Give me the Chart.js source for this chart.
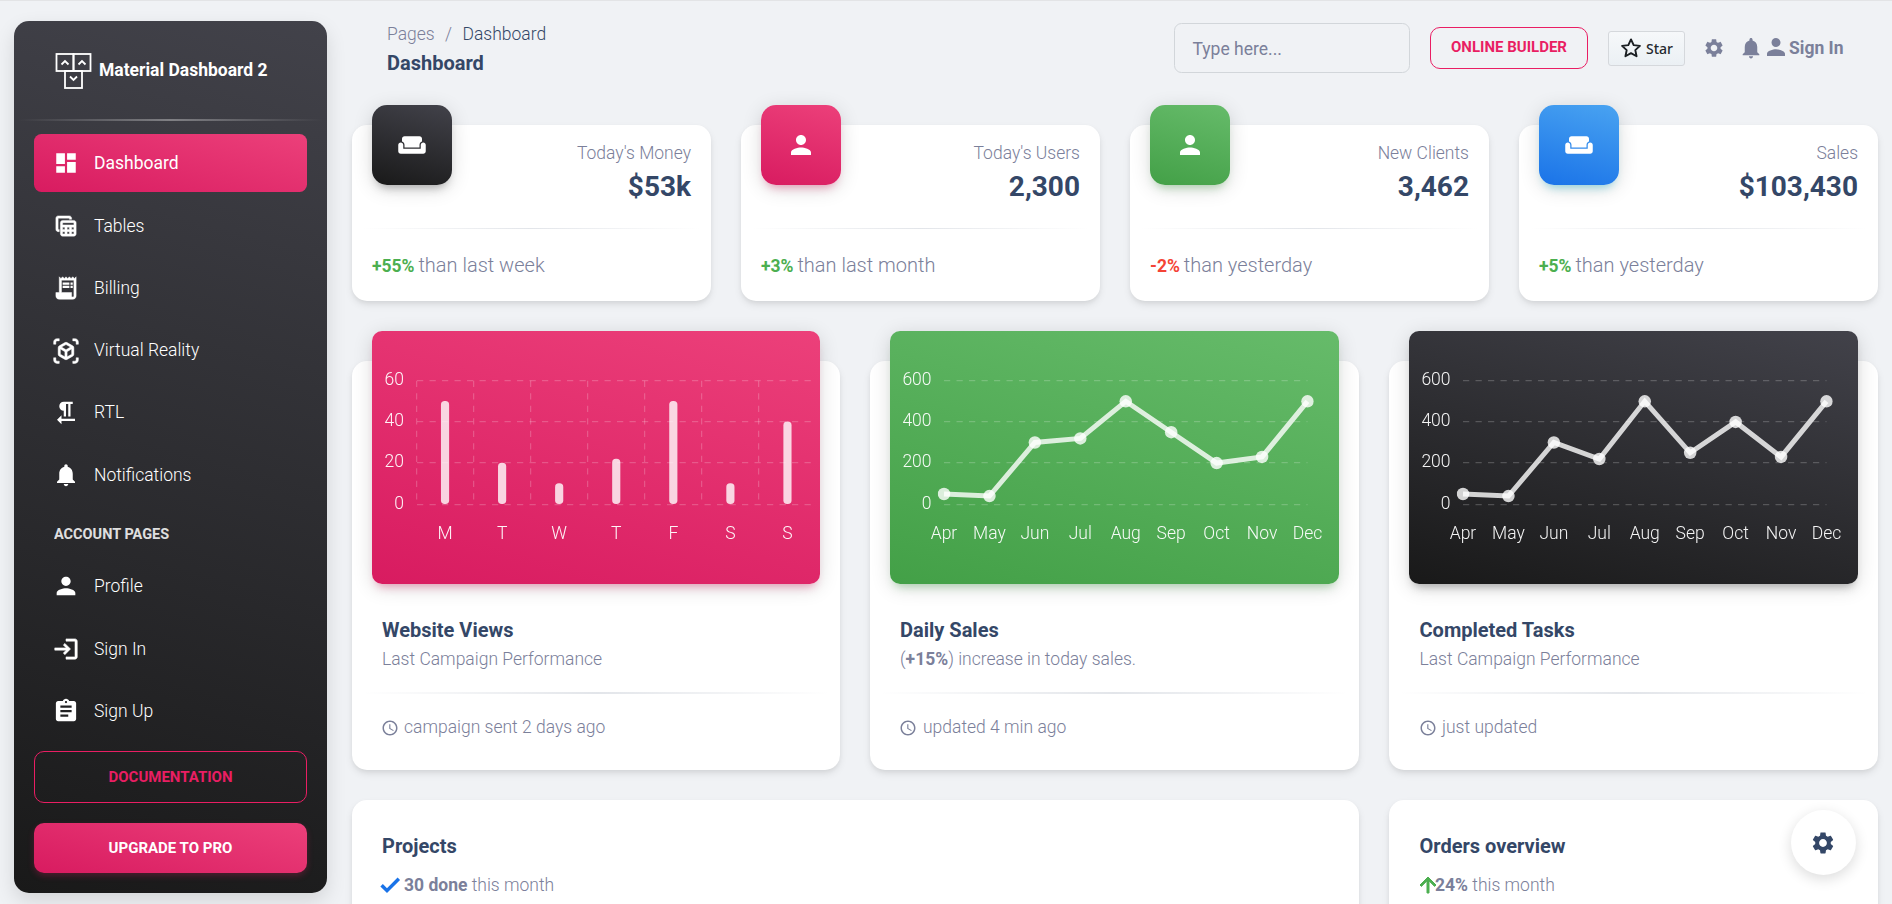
<!DOCTYPE html>
<html>
<head>
<meta charset="utf-8">
<script src="https://cdn.jsdelivr.net/npm/chart.js@4"></script>
<style>
*{box-sizing:border-box}
html,body{margin:0;width:1892px;height:904px;overflow:hidden;background:#f0f2f5;font-family:Roboto,sans-serif;color:#7b809a}
body{position:relative;border-top:1px solid #e3e4e6}
b{font-weight:700}
.a{position:absolute}
.t{position:absolute;line-height:1;white-space:nowrap;transform:translateY(-50%)}
.r{transform:translateY(-50%);text-align:right}
.ic{position:absolute;transform:translate(-50%,-50%);fill:currentColor}
.side{left:14px;top:20px;width:313px;height:872px;border-radius:15px;background:linear-gradient(195deg,#42424a,#191919);box-shadow:0 8px 20px rgba(0,0,0,.12)}
.card{position:absolute;background:#fff;border-radius:15px;box-shadow:0 4px 8px -1px rgba(0,0,0,.1),0 2px 5px -1px rgba(0,0,0,.06)}
.box{position:absolute;width:80px;height:80px;border-radius:15px}
.head{position:absolute;top:330px;height:253px;border-radius:10px}
.head canvas{position:absolute;left:0;top:0}
.hr{position:absolute;height:1.5px;background:linear-gradient(90deg,rgba(52,71,103,0),rgba(52,71,103,.14),rgba(52,71,103,0))}
.hrd{position:absolute;height:1.5px;background:linear-gradient(90deg,rgba(255,255,255,0),rgba(255,255,255,.35),rgba(255,255,255,0))}
.nav{color:#fff;font-size:17.5px;font-weight:300;left:94px}
.title{color:#344767;font-weight:700;font-size:20px}
.sub{font-weight:300;font-size:17.5px}
.val{font-size:28px;font-weight:700;color:#344767}
.foot{font-size:20px;font-weight:300}
.foot b{font-size:17.5px;margin-right:-1px}
.pink{background:linear-gradient(195deg,#ec407a,#d81b60);box-shadow:0 4px 20px rgba(0,0,0,.14),0 7px 10px -5px rgba(233,30,99,.4)}
.green{background:linear-gradient(195deg,#66bb6a,#43a047);box-shadow:0 4px 20px rgba(0,0,0,.14),0 7px 10px -5px rgba(76,175,80,.4)}
.dark{background:linear-gradient(195deg,#42424a,#191919);box-shadow:0 4px 20px rgba(0,0,0,.14),0 7px 10px -5px rgba(64,64,64,.4)}
.blue{background:linear-gradient(195deg,#49a3f1,#1a73e8);box-shadow:0 4px 20px rgba(0,0,0,.14),0 7px 10px -5px rgba(0,188,212,.4)}
</style>
</head>
<body>
<svg width="0" height="0" style="position:absolute">
<symbol id="sofa" viewBox="0 0 24 24"><path d="M21 10c-1.1 0-2 .9-2 2v3H5v-3c0-1.1-.9-2-2-2s-2 .9-2 2v5c0 1.1.9 2 2 2h18c1.1 0 2-.9 2-2v-5c0-1.1-.9-2-2-2zm-3-5H6c-1.1 0-2 .9-2 2v2.15c1.16.41 2 1.51 2 2.82V14h12v-2.03c0-1.3.84-2.4 2-2.82V7c0-1.1-.9-2-2-2z"/></symbol>
<symbol id="person" viewBox="0 0 24 24"><path d="M12 12c2.21 0 4-1.79 4-4s-1.79-4-4-4-4 1.79-4 4 1.79 4 4 4zm0 2c-2.67 0-8 1.34-8 4v2h16v-2c0-2.66-5.33-4-8-4z"/></symbol>
<symbol id="dash" viewBox="0 0 24 24"><path d="M3 13h8V3H3v10zm0 8h8v-6H3v6zm10 0h8V11h-8v10zm0-18v6h8V3h-8z"/></symbol>
<symbol id="gear" viewBox="0 0 24 24"><path d="M19.14 12.94c.04-.3.06-.61.06-.94 0-.32-.02-.64-.07-.94l2.03-1.58c.18-.14.23-.41.12-.61l-1.92-3.32c-.12-.22-.37-.29-.59-.22l-2.39.96c-.5-.38-1.03-.7-1.62-.94l-.36-2.54c-.04-.24-.24-.41-.48-.41h-3.84c-.24 0-.43.17-.47.41l-.36 2.54c-.59.24-1.13.57-1.62.94l-2.39-.96c-.22-.08-.47 0-.59.22L2.74 8.87c-.12.21-.08.47.12.61l2.03 1.58c-.05.3-.09.63-.09.94s.02.64.07.94l-2.03 1.58c-.18.14-.23.41-.12.61l1.92 3.32c.12.22.37.29.59.22l2.39-.96c.5.38 1.03.7 1.62.94l.36 2.54c.05.24.24.41.48.41h3.84c.24 0 .44-.17.47-.41l.36-2.54c.59-.24 1.13-.56 1.62-.94l2.39.96c.22.08.47 0 .59-.22l1.92-3.32c.12-.22.07-.47-.12-.61l-2.01-1.58zM12 15.6c-1.98 0-3.6-1.62-3.6-3.6s1.62-3.6 3.6-3.6 3.6 1.62 3.6 3.6-1.62 3.6-3.6 3.6z"/></symbol>
<symbol id="bell" viewBox="0 0 24 24"><path d="M12 22c1.1 0 2-.9 2-2h-4c0 1.1.89 2 2 2zm6-6v-5c0-3.07-1.64-5.64-4.5-6.32V4c0-.83-.67-1.5-1.5-1.5s-1.5.67-1.5 1.5v.68C7.63 5.36 6 7.92 6 11v5l-2 2v1h16v-1l-2-2z"/></symbol>
<symbol id="check" viewBox="0 0 24 24"><path d="M9 16.17L4.83 12l-1.42 1.41L9 19 21 7l-1.41-1.41z" stroke="currentColor" stroke-width="1.5"/></symbol>
<symbol id="up" viewBox="0 0 24 24"><path d="M4 12l1.41 1.41L11 7.83V20h2V7.83l5.58 5.59L20 12l-8-8-8 8z" stroke="currentColor" stroke-width="1"/></symbol>
<symbol id="clock" viewBox="0 0 24 24"><path d="M11.99 2C6.47 2 2 6.48 2 12s4.47 10 9.99 10C17.52 22 22 17.52 22 12S17.52 2 11.99 2zM12 20c-4.42 0-8-3.58-8-8s3.58-8 8-8 8 3.58 8 8-3.58 8-8 8zm.5-13H11v6l5.25 3.15.75-1.23-4.5-2.67z"/></symbol>
<symbol id="assign" viewBox="0 0 24 24"><path d="M19 3h-4.18C14.4 1.84 13.3 1 12 1c-1.3 0-2.4.84-2.82 2H5c-1.1 0-2 .9-2 2v14c0 1.1.9 2 2 2h14c1.1 0 2-.9 2-2V5c0-1.1-.9-2-2-2zm-7 0c.55 0 1 .45 1 1s-.45 1-1 1-1-.45-1-1 .45-1 1-1zm2 14H7v-2h7v2zm3-4H7v-2h10v2zm0-4H7V7h10v2z"/></symbol>
<symbol id="login" viewBox="0 0 24 24"><path d="M11 7L9.6 8.4l2.6 2.6H2v2h10.2l-2.6 2.6L11 17l5-5-5-5zm9 12h-8v2h8c1.1 0 2-.9 2-2V5c0-1.1-.9-2-2-2h-8v2h8v14z" stroke="currentColor" stroke-width=".5"/></symbol>
<symbol id="table" viewBox="0 0 24 24"><path stroke="currentColor" stroke-width=".4" d="M19 7H9c-1.1 0-2 .9-2 2v10c0 1.1.9 2 2 2h10c1.1 0 2-.9 2-2V9c0-1.1-.9-2-2-2zm0 2v2H9V9h10zm-6 6v-2h2v2h-2zm2 2v2h-2v-2h2zm-4-2H9v-2h2v2zm6-2h2v2h-2v-2zm-8 4h2v2H9v-2zm8 2v-2h2v2h-2zM6 17H5c-1.1 0-2-.9-2-2V5c0-1.1.9-2 2-2h10c1.1 0 2 .9 2 2v1h-2V5H5v10h1v2z"/></symbol>
<symbol id="receipt" viewBox="0 0 24 24"><path stroke="currentColor" stroke-width=".4" d="M19.5 3.5L18 2l-1.5 1.5L15 2l-1.5 1.5L12 2l-1.5 1.5L9 2 7.5 3.5 6 2v14H3v3c0 1.66 1.34 3 3 3h12c1.66 0 3-1.34 3-3V2l-1.5 1.5zM19 19c0 .55-.45 1-1 1s-1-.45-1-1v-3H8V5h11v14z"/><path d="M9 7h6v2H9zM16 7h2v2h-2zM9 10h6v2H9zM16 10h2v2h-2z"/></symbol>
<symbol id="vr" viewBox="0 0 24 24"><path stroke="currentColor" stroke-width=".4" d="M3 4c0-.55.45-1 1-1h2V1H4C2.34 1 1 2.34 1 4v2h2V4zm0 16v-2H1v2c0 1.66 1.34 3 3 3h2v-2H4c-.55 0-1-.45-1-1zM20 1h-2v2h2c.55 0 1 .45 1 1v2h2V4c0-1.66-1.34-3-3-3zm1 19c0 .55-.45 1-1 1h-2v2h2c1.66 0 3-1.34 3-3v-2h-2v2zm-2-5.13V9.13c0-.72-.38-1.38-1-1.73l-5-2.88c-.31-.18-.65-.27-1-.27s-.69.09-1 .27L6 7.39c-.62.36-1 1.02-1 1.74v5.74c0 .72.38 1.38 1 1.73l5 2.88c.31.18.65.27 1 .27s.69-.09 1-.27l5-2.88c.62-.35 1-1.01 1-1.73zm-8 2.3l-4-2.3v-4.63l4 2.33v4.6zm1-6.33L8.04 8.53 12 6.25l3.96 2.28L12 10.84zm5 4.03l-4 2.3v-4.6l4-2.33v4.63z"/></symbol>
<symbol id="rtl" viewBox="0 0 24 24"><path d="M10 10v5h2V4h2v11h2V4h2V2h-8C7.79 2 6 3.79 6 6s1.79 4 4 4zm-2 7v-3l-4 4 4 4v-3h12v-2H8z"/></symbol>
<symbol id="star" viewBox="0 0 24 24"><path d="M12 3l2.8 6 6.5.8-4.8 4.4 1.3 6.4L12 17.4l-5.8 3.2 1.3-6.4-4.8-4.4 6.5-.8z" fill="none" stroke="currentColor" stroke-width="2" stroke-linejoin="round"/></symbol>
</svg>

<!-- sidebar -->
<div class="a side"></div>
<svg class="a" style="left:55px;top:52px" width="37" height="36" viewBox="0 0 37 36" fill="none" stroke="#fff" stroke-width="1.8"><rect x="1.5" y="1" width="17" height="17"/><rect x="18.5" y="1" width="17" height="17"/><rect x="10" y="18" width="17" height="17"/><path d="M6.5 11.5l3.5-3.5 3.5 3.5M23.5 11.5l3.5-3.5 3.5 3.5M15 23.5l3.5 3.5 3.5-3.5"/></svg>
<div class="t" style="left:99px;top:70px;color:#fff;font-weight:700;font-size:17.5px">Material Dashboard 2</div>
<div class="hrd" style="left:18px;top:118px;width:305px"></div>
<div class="a" style="left:34px;top:133px;width:273px;height:58px;border-radius:7.5px;background:linear-gradient(195deg,#ec407a,#d81b60)"></div>
<svg class="ic" style="left:66px;top:162px;color:#fff" width="26" height="26"><use href="#dash"/></svg>
<div class="t nav" style="top:163px;font-weight:400">Dashboard</div>
<svg class="ic" style="left:66px;top:225px;color:#fff" width="27" height="27"><use href="#table"/></svg>
<div class="t nav" style="top:226px">Tables</div>
<svg class="ic" style="left:66px;top:287px;color:#fff" width="27" height="27"><use href="#receipt"/></svg>
<div class="t nav" style="top:288px">Billing</div>
<svg class="ic" style="left:66px;top:350px;color:#fff" width="27" height="27"><use href="#vr"/></svg>
<div class="t nav" style="top:350px">Virtual Reality</div>
<svg class="ic" style="left:66px;top:412px;color:#fff" width="27" height="27"><use href="#rtl"/></svg>
<div class="t nav" style="top:412px">RTL</div>
<svg class="ic" style="left:66px;top:474px;color:#fff" width="27" height="27"><use href="#bell"/></svg>
<div class="t nav" style="top:475px">Notifications</div>
<div class="t" style="left:54px;top:534px;color:#fff;font-weight:700;font-size:14.5px;opacity:.85">ACCOUNT PAGES</div>
<svg class="ic" style="left:66px;top:585px;color:#fff" width="28" height="28"><use href="#person"/></svg>
<div class="t nav" style="top:586px">Profile</div>
<svg class="ic" style="left:66px;top:648px;color:#fff" width="27" height="27"><use href="#login"/></svg>
<div class="t nav" style="top:649px">Sign In</div>
<svg class="ic" style="left:66px;top:710px;color:#fff" width="27" height="27"><use href="#assign"/></svg>
<div class="t nav" style="top:711px">Sign Up</div>
<div class="a" style="left:34px;top:750px;width:273px;height:52px;border:1px solid #e91e63;border-radius:10px"></div>
<div class="t" style="left:34px;width:273px;text-align:center;top:776px;color:#e91e63;font-weight:700;font-size:15px">DOCUMENTATION</div>
<div class="a" style="left:34px;top:822px;width:273px;height:50px;border-radius:10px;background:linear-gradient(195deg,#ec407a,#d81b60);box-shadow:0 3px 6px rgba(233,30,99,.25)"></div>
<div class="t" style="left:34px;width:273px;text-align:center;top:847px;color:#fff;font-weight:700;font-size:15px">UPGRADE TO PRO</div>

<!-- top bar -->
<div class="t" style="left:387px;top:34px;font-size:17.5px;font-weight:300">Pages</div>
<div class="t" style="left:445px;top:34px;font-size:17.5px;font-weight:300">/</div>
<div class="t" style="left:462.5px;top:34px;font-size:17.5px;font-weight:300;color:#344767">Dashboard</div>
<div class="t" style="left:387px;top:62px;font-size:20px;font-weight:700;color:#344767">Dashboard</div>
<div class="a" style="left:1174px;top:22px;width:236px;height:50px;border:1px solid #d2d6da;border-radius:7.5px"></div>
<div class="t" style="left:1192.5px;top:49px;font-size:17.5px;font-weight:400">Type here...</div>
<div class="a" style="left:1430px;top:26px;width:158px;height:42px;border:1px solid #e91e63;border-radius:10px"></div>
<div class="t" style="left:1430px;width:158px;text-align:center;top:46px;color:#e91e63;font-weight:700;font-size:15px">ONLINE BUILDER</div>
<div class="a" style="left:1608px;top:30px;width:77px;height:35px;border:1px solid #d5d8dc;border-radius:3px;background:linear-gradient(#f6f8fa,#ebf0f4)"></div>
<svg class="ic" style="left:1631px;top:47px;color:#1b1f23" width="23" height="23"><use href="#star"/></svg>
<div class="t" style="left:1646px;top:48px;font-family:'Noto Sans',sans-serif;font-weight:500;font-size:14px;color:#24292e">Star</div>
<svg class="ic" style="left:1714px;top:47px;color:#7b809a" width="22" height="22"><use href="#gear"/></svg>
<svg class="ic" style="left:1751px;top:47px;color:#7b809a" width="25" height="25"><use href="#bell"/></svg>
<svg class="ic" style="left:1776px;top:46px;color:#7b809a" width="27" height="27"><use href="#person"/></svg>
<div class="t" style="left:1789px;top:48px;font-size:17.5px;font-weight:700">Sign In</div>

<!-- stat cards -->
<div class="card" style="left:352px;top:124px;width:359px;height:176px"></div>
<div class="box dark" style="left:372px;top:104px"></div>
<svg class="ic" style="left:412px;top:144px;color:#fff" width="30" height="30"><use href="#sofa"/></svg>
<div class="t r sub" style="right:1201px;top:153px">Today's Money</div>
<div class="t r val" style="right:1201px;top:185.5px">$53k</div>
<div class="hr" style="left:362px;top:226.5px;width:339px"></div>
<div class="t foot" style="left:372px;top:264px"><b style="color:#4caf50">+55%</b> than last week</div>

<div class="card" style="left:741px;top:124px;width:359px;height:176px"></div>
<div class="box pink" style="left:761px;top:104px"></div>
<svg class="ic" style="left:801px;top:144px;color:#fff" width="30" height="30"><use href="#person"/></svg>
<div class="t r sub" style="right:812px;top:153px">Today's Users</div>
<div class="t r val" style="right:812px;top:185.5px">2,300</div>
<div class="hr" style="left:751px;top:226.5px;width:339px"></div>
<div class="t foot" style="left:761px;top:264px"><b style="color:#4caf50">+3%</b> than last month</div>

<div class="card" style="left:1130px;top:124px;width:359px;height:176px"></div>
<div class="box green" style="left:1150px;top:104px"></div>
<svg class="ic" style="left:1190px;top:144px;color:#fff" width="30" height="30"><use href="#person"/></svg>
<div class="t r sub" style="right:423px;top:153px">New Clients</div>
<div class="t r val" style="right:423px;top:185.5px">3,462</div>
<div class="hr" style="left:1140px;top:226.5px;width:339px"></div>
<div class="t foot" style="left:1150px;top:264px"><b style="color:#f44335">-2%</b> than yesterday</div>

<div class="card" style="left:1519px;top:124px;width:359px;height:176px"></div>
<div class="box blue" style="left:1539px;top:104px"></div>
<svg class="ic" style="left:1579px;top:144px;color:#fff" width="30" height="30"><use href="#sofa"/></svg>
<div class="t r sub" style="right:34px;top:153px">Sales</div>
<div class="t r val" style="right:34px;top:185.5px">$103,430</div>
<div class="hr" style="left:1529px;top:226.5px;width:339px"></div>
<div class="t foot" style="left:1539px;top:264px"><b style="color:#4caf50">+5%</b> than yesterday</div>

<!-- chart cards -->
<div class="card" style="left:352px;top:360px;width:488px;height:409px"></div>
<div class="head pink" style="left:372px;width:448px"><canvas id="viewsChart" width="448" height="253"></canvas></div>
<div class="t title" style="left:382px;top:629px">Website Views</div>
<div class="t sub" style="left:382px;top:659px">Last Campaign Performance</div>
<div class="hr" style="left:362px;top:691px;width:468px"></div>
<svg class="ic" style="left:390px;top:727px;color:#7b809a" width="18" height="18"><use href="#clock"/></svg>
<div class="t sub" style="left:404px;top:727px">campaign sent 2 days ago</div>

<div class="card" style="left:870px;top:360px;width:489px;height:409px"></div>
<div class="head green" style="left:890px;width:449px"><canvas id="salesChart" width="449" height="253"></canvas></div>
<div class="t title" style="left:900px;top:629px">Daily Sales</div>
<div class="t sub" style="left:900px;top:659px">(<b>+15%</b>) increase in today sales.</div>
<div class="hr" style="left:880px;top:691px;width:469px"></div>
<svg class="ic" style="left:908px;top:727px;color:#7b809a" width="18" height="18"><use href="#clock"/></svg>
<div class="t sub" style="left:923px;top:727px">updated 4 min ago</div>

<div class="card" style="left:1389px;top:360px;width:489px;height:409px"></div>
<div class="head dark" style="left:1409px;width:449px"><canvas id="tasksChart" width="449" height="253"></canvas></div>
<div class="t title" style="left:1419.5px;top:629px">Completed Tasks</div>
<div class="t sub" style="left:1419.5px;top:659px">Last Campaign Performance</div>
<div class="hr" style="left:1399px;top:691px;width:469px"></div>
<svg class="ic" style="left:1428px;top:727px;color:#7b809a" width="18" height="18"><use href="#clock"/></svg>
<div class="t sub" style="left:1442px;top:727px">just updated</div>

<!-- bottom cards -->
<div class="card" style="left:352px;top:799px;width:1007px;height:200px"></div>
<div class="t title" style="left:382px;top:845px">Projects</div>
<svg class="ic" style="left:390px;top:884px;color:#1a73e8" width="24" height="24"><use href="#check"/></svg>
<div class="t sub" style="left:404px;top:885px"><b>30 done</b> this month</div>

<div class="card" style="left:1389px;top:799px;width:489px;height:200px"></div>
<div class="t title" style="left:1419.5px;top:845px">Orders overview</div>
<svg class="ic" style="left:1428px;top:884px;color:#4caf50" width="24" height="24"><use href="#up"/></svg>
<div class="t sub" style="left:1435px;top:885px"><b>24%</b> this month</div>

<div class="a" style="left:1791px;top:809px;width:65px;height:65px;border-radius:50%;background:#fff;box-shadow:0 4px 14px rgba(0,0,0,.14)"></div>
<svg class="ic" style="left:1823px;top:842px;color:#344767" width="26" height="26"><use href="#gear"/></svg>

<script>
const weekDays = ["M", "T", "W", "T", "F", "S", "S"];
const websiteViews = [50, 20, 10, 22, 50, 10, 40];
const months = ["Apr", "May", "Jun", "Jul", "Aug", "Sep", "Oct", "Nov", "Dec"];
const dailySales = [50, 40, 300, 320, 500, 350, 200, 230, 500];
const completedTasks = [50, 40, 300, 220, 500, 250, 400, 230, 500];
const barTicks = [0, 20, 40, 60];
const lineTicks = [0, 200, 400, 600];

const WHITE8 = "rgba(255,255,255,.8)";
const GRID = "rgba(255,255,255,.2)";
const tickFont = { family: "Roboto", size: 17.5, weight: 300, lineHeight: 2 };

function scales(opts) {
  const y = {
    min: 0, max: opts.max,
    afterBuildTicks(s) { s.ticks = opts.ticks.map(v => ({ value: v })); },
    afterFit(s) { s.width = opts.left; },
    grid: { color: GRID, lineWidth: 1.25, drawTicks: false, drawOnChartArea: true },
    border: { display: false, dash: [6.25, 6.25] },
    ticks: { color: "rgba(255,255,255,.95)", font: tickFont, padding: 12.5 }
  };
  const x = {
    afterFit(s) { s.height = 79.7; },
    grid: {
      display: opts.vertical, lineWidth: 1.25, drawTicks: false,
      color: c => (c.tick ? GRID : "transparent")
    },
    border: { display: false, dash: [6.25, 6.25] },
    ticks: { color: "rgba(255,255,255,.95)", font: tickFont, padding: 12.5, autoSkip: false, maxRotation: 0 }
  };
  return { x, y };
}
function base(opts) {
  return {
    responsive: false, animation: false, maintainAspectRatio: false,
    layout: { padding: { top: 49.7, right: opts.right, bottom: 0, left: 0 } },
    plugins: { legend: { display: false }, tooltip: { enabled: false } },
    scales: scales(opts)
  };
}
new Chart(document.getElementById("viewsChart"), {
  type: "bar",
  data: { labels: weekDays, datasets: [{ label: "Sales", data: websiteViews, backgroundColor: WHITE8, borderSkipped: false, borderRadius: 4, barThickness: 7.5 }] },
  options: base({ max: 60, ticks: barTicks, left: 44.5, right: 4, vertical: true })
});
function lineChart(id, values) {
  new Chart(document.getElementById(id), {
    type: "line",
    data: { labels: months, datasets: [{ label: "Series", data: values, tension: 0, borderColor: WHITE8, borderWidth: 5, pointRadius: 6.25, pointBorderWidth: 0, pointBackgroundColor: WHITE8, fill: false }] },
    options: base({ max: 600, ticks: lineTicks, left: 54, right: 31.5, vertical: false })
  });
}
lineChart("salesChart", dailySales);
lineChart("tasksChart", completedTasks);
</script>
</body>
</html>
